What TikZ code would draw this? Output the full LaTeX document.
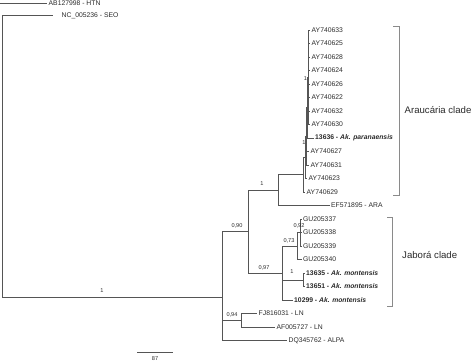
\documentclass[tikz,border=0pt]{standalone}
\usepackage{fontspec}
\setmainfont{Liberation Sans}
\definecolor{lineC}{HTML}{555555}
\definecolor{brC}{HTML}{8A8A8A}
\definecolor{txtC}{HTML}{2A2A2A}
\begin{document}
\begin{tikzpicture}[x=1pt,y=-1pt,
  br/.style={draw=lineC, line width=0.8pt},
  bracketline/.style={draw=brC, line width=0.8pt},
  leaf/.style={anchor=west, inner sep=1.5pt, font=\fontsize{6.8}{8}\selectfont, text=txtC},
  supval/.style={inner sep=0pt, font=\fontsize{5.6}{6}\selectfont, text=txtC},
  cladelab/.style={anchor=west, inner sep=0pt, font=\fontsize{9.6}{11}\selectfont, text=txtC}]
\useasboundingbox (0,0) rectangle (474,361);
% internal nodes
\coordinate (R0) at (2,156);
\coordinate (R2) at (222,297);
\coordinate (N090) at (248,231.5);
\coordinate (N1) at (278,190);
\coordinate (A) at (303,174.5);
\coordinate (B) at (305,157);
\coordinate (C) at (306.5,136);
\coordinate (E) at (307,107.5);
\coordinate (D) at (308,77);
\coordinate (N097) at (282,273);
\coordinate (N073) at (297,246);
\coordinate (N092) at (300,232.5);
\coordinate (N1b) at (303,280);
\coordinate (N094) at (241,320);
% outgroup leaves
\coordinate (abS) at (0,3);
\coordinate (abE) at (47,3);
\node[leaf] (abT) at (abE) {AB127998 - HTN};
\draw[br] (abS) -- (abE);
\coordinate (ncE) at (53,15.5);
\node[leaf] (ncT) at (60,15.5) {NC\_005236 - SEO};
\draw[br] (R0) |- (ncE);
\draw[br] (R0) |- (R2);
\node[supval] (s1a) at (102,291) {1};
% R2 children
\draw[br] (R2) |- (N090);
\draw[br] (R2) |- (N094);
\coordinate (dqE) at (287,340.5);
\node[leaf] (dqT) at (dqE) {DQ345762 - ALPA};
\draw[br] (R2) |- (dqE);
\node[supval] (s090) at (237,225.5) {0,90};
% N094
\coordinate (fjE) at (257,313.5);
\node[leaf] (fjT) at (fjE) {FJ816031 - LN};
\coordinate (afE) at (275,327);
\node[leaf] (afT) at (afE) {AF005727 - LN};
\draw[br] (N094) |- (fjE);
\draw[br] (N094) |- (afE);
\node[supval] (s094) at (232,314.5) {0,94};
% N090
\draw[br] (N090) |- (N1);
\draw[br] (N090) |- (N097);
\node[supval] (s1b) at (262,183.5) {1};
\node[supval] (s097) at (264,268) {0,97};
% N1
\draw[br] (N1) |- (A);
\coordinate (efE) at (329.5,205.5);
\node[leaf] (efT) at (efE) {EF571895 - ARA};
\draw[br] (N1) |- (efE);
% Araucaria clade
\draw[br] (A) |- (B);
\coordinate (l12) at (305,192);
\node[leaf] (t12) at (l12) {AY740629};
\draw[br] (A) |- (l12);
\draw[br] (B) |- (C);
\coordinate (l11) at (307,178.5);
\node[leaf] (t11) at (l11) {AY740623};
\draw[br] (B) |- (l11);
\draw[br] (C) |- (E);
\coordinate (l9) at (309,151.5);
\node[leaf] (t9) at (l9) {AY740627};
\draw[br] (C) |- (l9);
\coordinate (l10) at (309,165);
\node[leaf] (t10) at (l10) {AY740631};
\draw[br] (C) |- (l10);
\draw[br] (E) |- (D);
\coordinate (l8) at (313.5,138);
\node[leaf] (t8) at (l8) {\bfseries 13636 - \itshape Ak. paranaensis};
\draw[br] (E) |- (l8);
\foreach \i/\lab in {0/AY740633,1/AY740625,2/AY740628,3/AY740624,4/AY740626,5/AY740622,6/AY740632,7/AY740630}{
  \coordinate (l\i) at (310,{30+13.5*\i});
  \node[leaf] (t\i) at (l\i) {\lab};
  \draw[br] (D) |- (l\i);
}
\node[supval] (s1c) at (305.5,79) {1};
\node[supval] (s1d) at (304,143) {1};
% Jabora clade
\draw[br] (N097) |- (N073);
\draw[br] (N097) |- (N1b);
\coordinate (l20) at (292.5,300);
\node[leaf] (t20) at (l20) {\bfseries 10299 - \itshape Ak. montensis};
\draw[br] (N097) |- (l20);
\draw[br] (N073) |- (N092);
\coordinate (l17) at (301.5,259.5);
\node[leaf] (t17) at (l17) {GU205340};
\draw[br] (N073) |- (l17);
\foreach \i/\lab in {14/GU205337,15/GU205338,16/GU205339}{
  \coordinate (l\i) at (301.5,{30+13.5*\i});
  \node[leaf] (t\i) at (l\i) {\lab};
  \draw[br] (N092) |- (l\i);
}
\node[supval] (s073) at (289,240.5) {0,73};
\node[supval] (s092) at (299,226) {0,92};
\coordinate (l18) at (304.5,273);
\node[leaf] (t18) at (l18) {\bfseries 13635 - \itshape Ak. montensis};
\draw[br] (N1b) |- (l18);
\coordinate (l19) at (304.5,286.5);
\node[leaf] (t19) at (l19) {\bfseries 13651 - \itshape Ak. montensis};
\draw[br] (N1b) |- (l19);
\node[supval] (s1e) at (292,272) {1};
% brackets
\coordinate (bA1) at (393,26);
\coordinate (bA2) at (399,26);
\coordinate (bA3) at (399,195);
\coordinate (bA4) at (393,195);
\draw[bracketline] (bA1) -- (bA2) -- (bA3) -- (bA4);
\node[cladelab] (araT) at (404.5,110) {Araucária clade};
\coordinate (bJ1) at (387,217);
\coordinate (bJ2) at (392,217);
\coordinate (bJ3) at (392,306);
\coordinate (bJ4) at (387,306);
\draw[bracketline] (bJ1) -- (bJ2) -- (bJ3) -- (bJ4);
\node[cladelab] (jabT) at (402,255) {Jaborá clade};
% scale bar
\coordinate (sc1) at (137,352);
\coordinate (sc2) at (173,352);
\draw[br] (sc1) -- (sc2);
\node[supval] (scT) at (155,358.5) {87};
\end{tikzpicture}
\end{document}
